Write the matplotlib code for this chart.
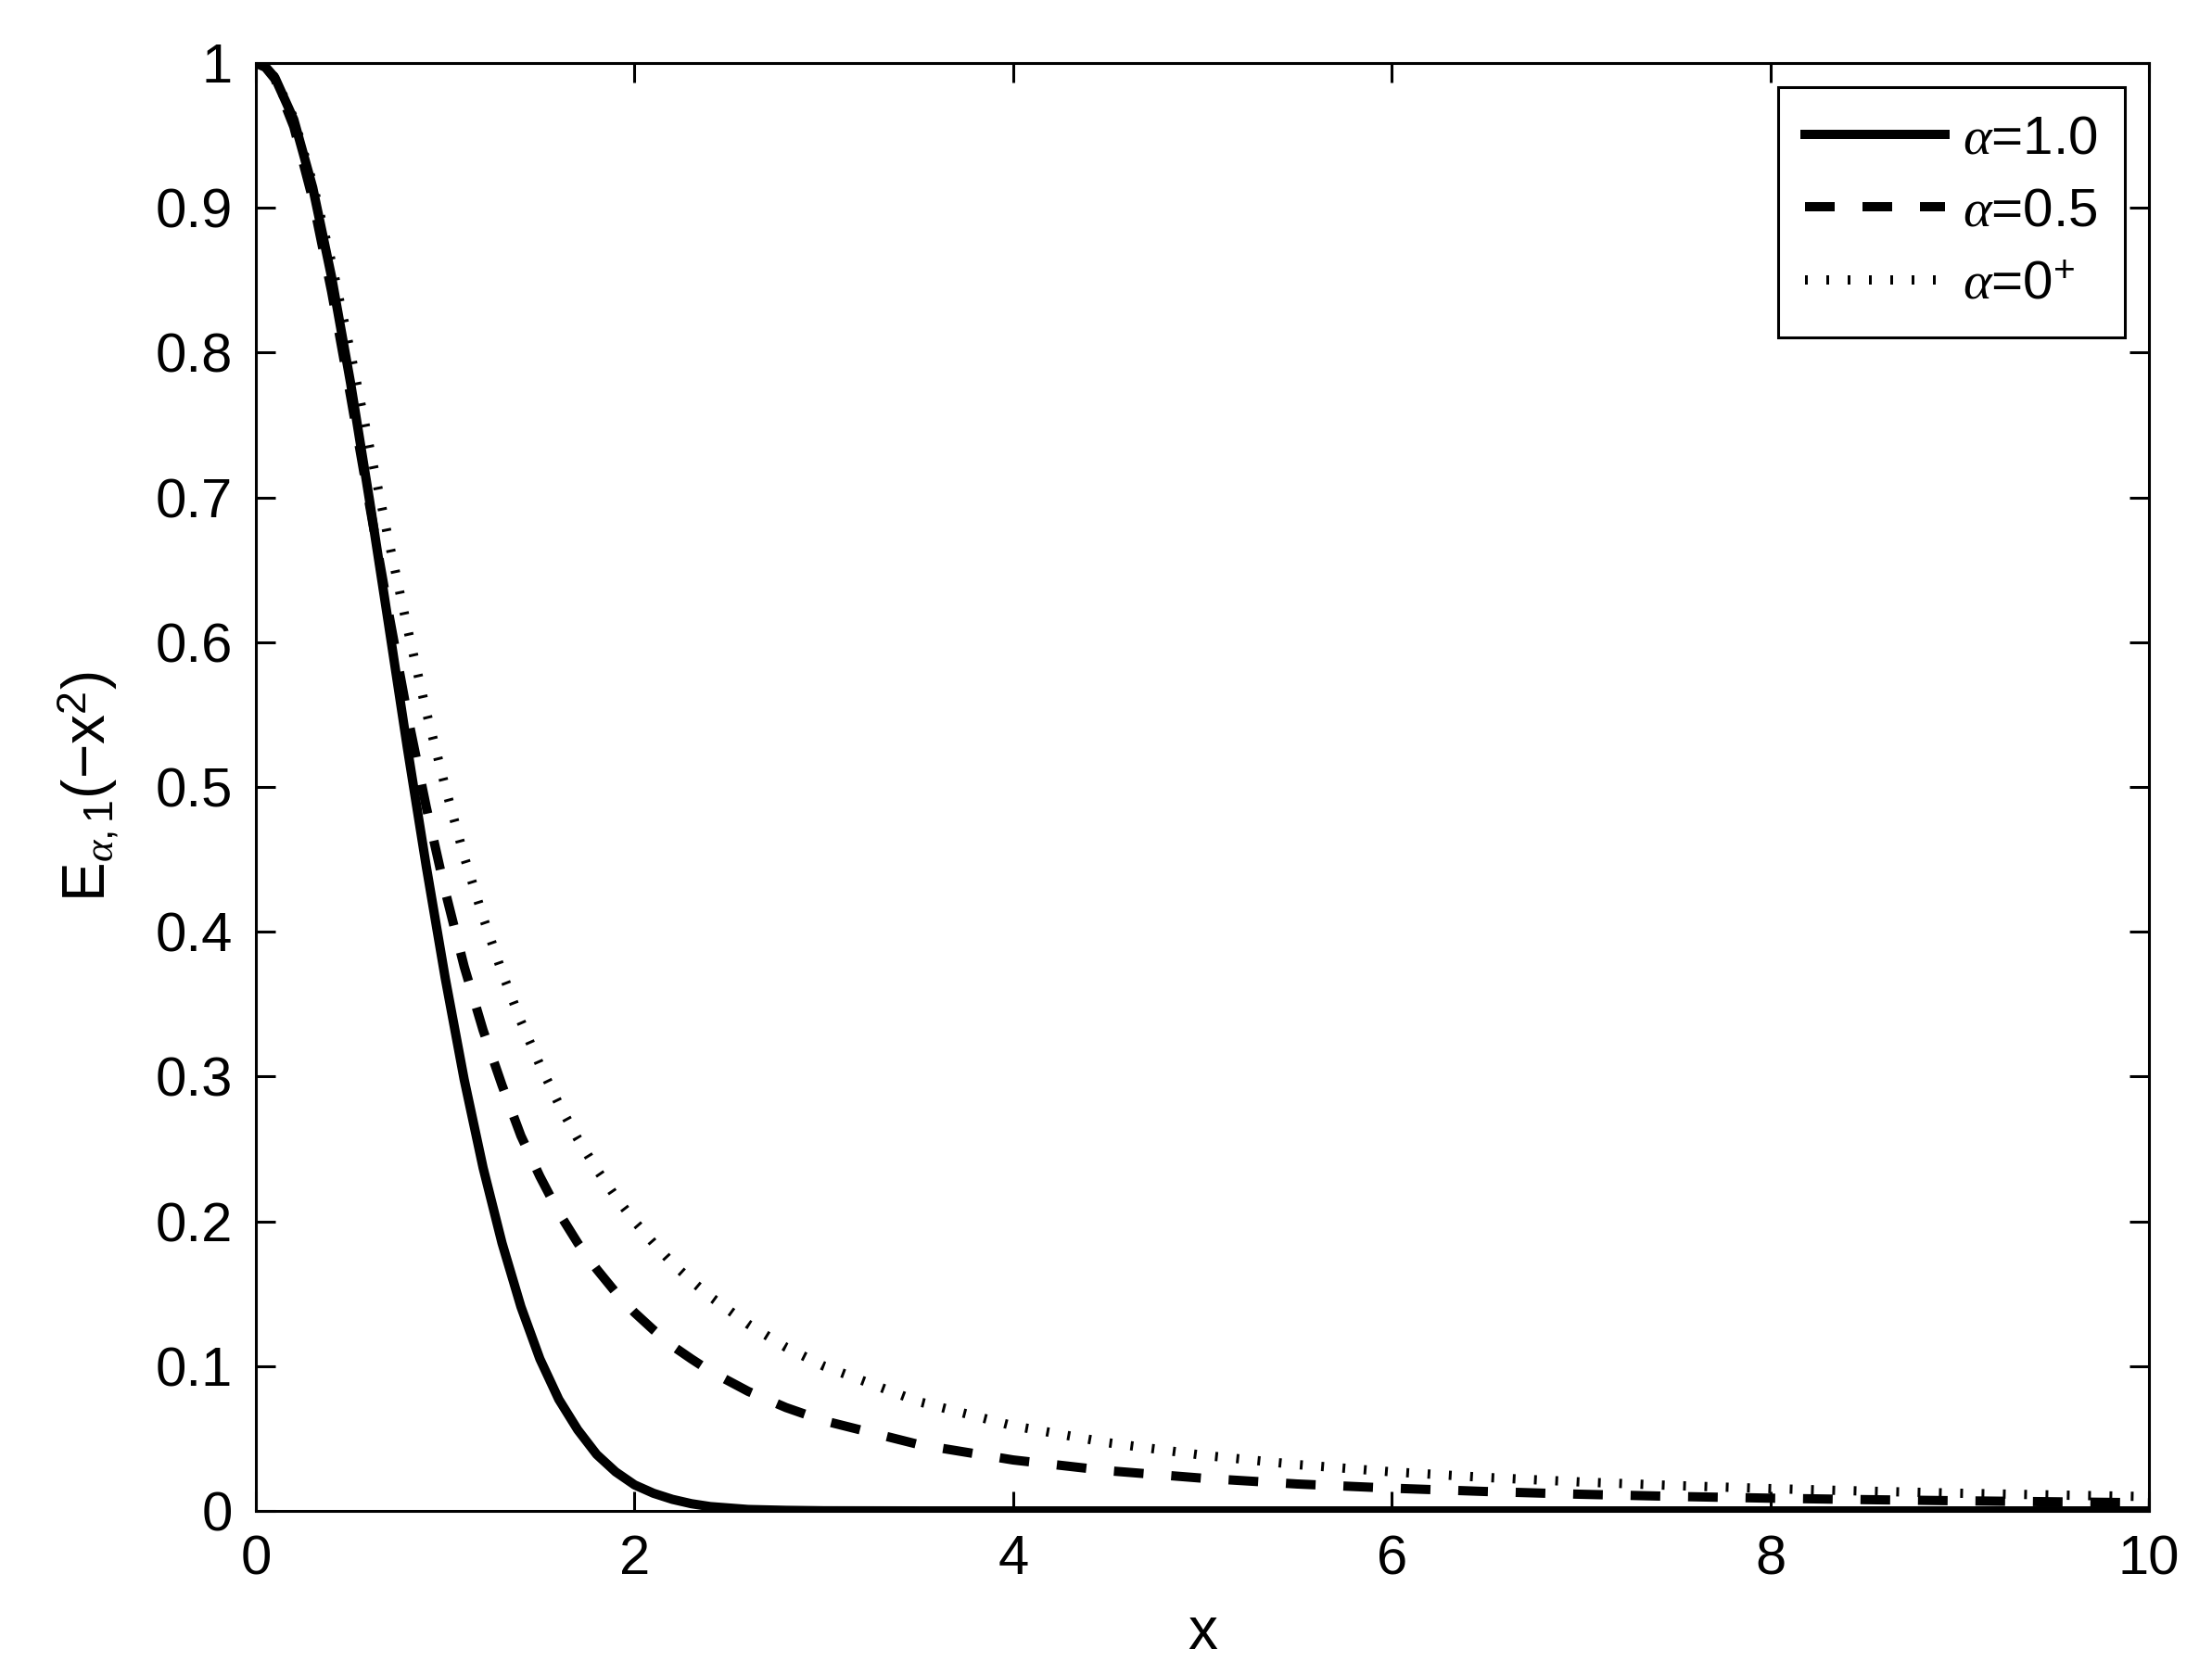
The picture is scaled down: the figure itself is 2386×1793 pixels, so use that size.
import numpy as np
import matplotlib
matplotlib.use("Agg")
import matplotlib.pyplot as plt

# values
x_vals = [0.0, 0.05, 0.1, 0.2, 0.3, 0.4, 0.5, 0.6, 0.7, 0.8, 0.9, 1.0,
          1.1, 1.2, 1.3, 1.4, 1.5, 1.6, 1.7, 1.8, 1.9, 2.0,
          2.1, 2.2, 2.3, 2.4, 2.6, 2.8, 3.0,
          3.5, 4.0, 4.5, 5.0, 5.5, 6.0, 6.5, 7.0, 7.5, 8.0, 8.5, 9.0, 9.5, 10.0]

alpha_10 = [1.0, 0.9975, 0.990, 0.961, 0.914, 0.852, 0.779, 0.698, 0.613, 0.527, 0.445, 0.368,
            0.298, 0.237, 0.185, 0.141, 0.105, 0.077, 0.056, 0.039, 0.027, 0.018,
            0.0122, 0.008, 0.005, 0.003, 0.001, 0.0004, 0.0001,
            0, 0, 0, 0, 0, 0, 0, 0, 0, 0, 0, 0, 0, 0]

alpha_05 = [1.0, 0.997, 0.989, 0.956, 0.906, 0.842, 0.770, 0.695, 0.621, 0.550, 0.486, 0.428,
            0.376, 0.332, 0.294, 0.259, 0.231, 0.206, 0.185, 0.167, 0.151, 0.137,
            0.125, 0.114, 0.105, 0.0965, 0.0826, 0.0714, 0.0623,
            0.0459, 0.0352, 0.0278, 0.0226, 0.0186, 0.0157, 0.0134, 0.0115, 0.0100,
            0.0088, 0.0078, 0.0070, 0.0063, 0.0056]

alpha_0p = [1.0, 0.9975, 0.990, 0.962, 0.917, 0.862, 0.800, 0.735, 0.671, 0.610, 0.552, 0.500,
            0.452, 0.410, 0.372, 0.338, 0.308, 0.281, 0.257, 0.236, 0.217, 0.200,
            0.185, 0.171, 0.159, 0.148, 0.129, 0.113, 0.100,
            0.0755, 0.0588, 0.0471, 0.0385, 0.0320, 0.0270, 0.0231, 0.0200, 0.0175,
            0.0154, 0.0137, 0.0122, 0.0110, 0.0099]

labels = [r"$\alpha$=1.0", r"$\alpha$=0.5", r"$\alpha$=0$^{+}$"]

x_ticks = [0, 2, 4, 6, 8, 10]
y_ticks = [0, 0.1, 0.2, 0.3, 0.4, 0.5, 0.6, 0.7, 0.8, 0.9, 1.0]
y_tick_labels = ["0", "0.1", "0.2", "0.3", "0.4", "0.5", "0.6", "0.7", "0.8", "0.9", "1"]

plt.rcParams["font.family"] = ["Liberation Sans", "DejaVu Sans"]
plt.rcParams["mathtext.fontset"] = "custom"
plt.rcParams["mathtext.rm"] = "Liberation Sans"
plt.rcParams["mathtext.sf"] = "Liberation Sans"
plt.rcParams["mathtext.it"] = "Liberation Serif:italic"

fig = plt.figure(figsize=(11.93, 8.965), dpi=200)
ax = fig.add_axes([0.1157, 0.0909, 0.8558, 0.8712])

lw = 3.6
ax.plot(x_vals, alpha_10, color="k", lw=lw, linestyle="-", label=labels[0])
ax.plot(x_vals, alpha_05, color="k", lw=lw, linestyle=(0, (3.2, 3.0)), label=labels[1])
ax.plot(x_vals, alpha_0p, color="k", lw=lw, linestyle=(0, (0.3, 2.0)), label=labels[2])

ax.set_xlim(0, 10)
ax.set_ylim(0, 1)
ax.set_xticks(x_ticks)
ax.set_xticklabels([str(t) for t in x_ticks])
ax.set_yticks(y_ticks)
ax.set_yticklabels(y_tick_labels)

ax.tick_params(direction="in", top=True, right=True, length=7.5, width=1.1,
               labelsize=21.5, pad=9, colors="k")
for sp in ax.spines.values():
    sp.set_linewidth(1.1)
    sp.set_color("k")

ax.set_xlabel("x", fontsize=23, labelpad=8)
ax.set_ylabel("E$_{\\alpha,1}$(\u2212x$^{2}$)", fontsize=23, labelpad=14)

leg = ax.legend(loc="upper right", fontsize=21, fancybox=False, framealpha=1,
                edgecolor="k", handlelength=2.6, handletextpad=0.32,
                labelspacing=0.42, borderpad=0.5, borderaxespad=0.45)
leg.get_frame().set_linewidth(1.1)

fig.savefig("out.png", dpi=200, facecolor="white")
